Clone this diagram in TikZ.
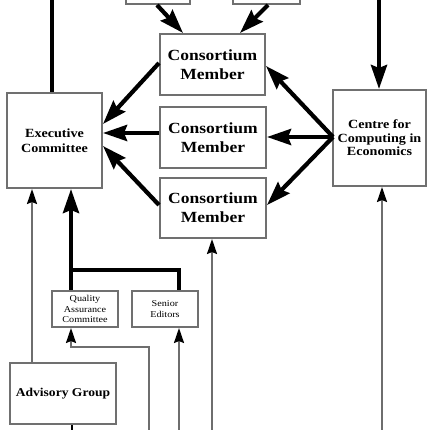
\documentclass[tikz,border=0pt]{standalone}
\usepackage{fontspec}
\setmainfont{Liberation Serif}[FakeStretch=1.13]
\usetikzlibrary{arrows.meta}
\definecolor{boxgray}{HTML}{707070}
\definecolor{linegray}{HTML}{6E6E6E}
\tikzset{
  box/.style={draw=boxgray, line width=2pt, fill=white, align=center, inner sep=0pt},
  bigbox/.style={box, font=\fontsize{15.5}{19}\selectfont\bfseries},
  midbox/.style={box, font=\fontsize{12.5}{14.5}\selectfont\bfseries},
  smallbox/.style={box, font=\fontsize{9}{10.5}\selectfont},
  thick arrow/.style={line width=4.2pt, -{Stealth[length=24pt,width=16pt,inset=3pt,fill=black]}},
  thick line/.style={line width=4.2pt},
  thin arrow/.style={draw=linegray, line width=2pt, -{Stealth[length=15pt,width=10pt,inset=2pt,color=black,fill=black]}},
}
\begin{document}
\begin{tikzpicture}[x=1pt,y=1pt]
\useasboundingbox (0,0) rectangle (430,-430);
\fill[white] (0,0) rectangle (430,-430);
\clip (0,0) rectangle (430,-430);

% top (cut-off) boxes
\node[box, minimum width=64pt, minimum height=30pt] (topl) at (158,11) {};
\node[box, minimum width=67pt, minimum height=30pt] (topr) at (266.5,11) {};

% consortium members
\node[bigbox, minimum width=105pt, minimum height=61pt] (cm1) at (212.5,-64.5) {Consortium\\Member};
\node[bigbox, minimum width=106pt, minimum height=61pt] (cm2) at (213,-137.5) {Consortium\\Member};
\node[bigbox, minimum width=106pt, minimum height=60pt] (cm3) at (213,-208) {Consortium\\Member};

% executive & centre
\node[midbox, minimum width=95pt, minimum height=95pt] (exec) at (54.5,-140.5) {Executive\\Committee};
\node[midbox, minimum width=93pt, minimum height=96pt, font=\fontsize{12.5}{13.5}\selectfont\bfseries] (centre) at (379.5,-138) {Centre for\\Computing in\\Economics};

% lower boxes
\node[smallbox, minimum width=66pt, minimum height=36pt] (qa) at (85,-309) {Quality\\Assurance\\Committee};
\node[smallbox, minimum width=66pt, minimum height=36pt] (se) at (165,-309) {Senior\\Editors};
\node[midbox, minimum width=106pt, minimum height=61pt, font=\fontsize{12}{14}\selectfont\bfseries] (adv) at (63,-393.5) {Advisory Group};

% free ends
\coordinate (topL) at (52,0);
\coordinate (topR) at (379,0);
\coordinate (junc) at (71,-270);
\coordinate (jse) at (179,-270);
\coordinate (bqa) at (149,-430);
\coordinate (bqa2) at (149,-347);
\coordinate (bqa3) at (71,-347);
\coordinate (bse) at (179,-430);
\coordinate (bcm) at (212,-430);
\coordinate (bce) at (382,-430);
\coordinate (badv) at (72,-432);
\coordinate (cfork) at (333,-137);

% thick connectors
\draw[thick arrow] (topl.south -| 157,0) -- (183,-33);
\draw[thick arrow] (topr.south -| 268,0) -- (240,-33);
\draw[thick line] (topL) -- (exec.north -| topL);
\draw[thick arrow] (topR) -- (centre.north -| topR);
\draw[thick arrow] (cm1.west |- 0,-63) -- (103,-124);
\draw[thick arrow] (cm2.west |- 0,-133) -- (103,-133);
\draw[thick arrow] (cm3.west |- 0,-205) -- (103,-146);
\draw[thick arrow] (cfork) -- (266,-66);
\draw[thick arrow] (cfork) -- (267,-137);
\draw[thick arrow] (cfork) -- (267,-205);
\draw[thick arrow] (qa.north -| junc) -- (exec.south -| junc);
\draw[thick line, line join=miter] (junc) -- (jse) -- (se.north -| jse);

% thin connectors
\draw[thin arrow] (adv.north -| 32,0) -- (exec.south -| 32,0);
\draw[thin arrow] (bqa) -- (bqa2) -- (bqa3) -- (qa.south -| bqa3);
\draw[thin arrow] (bse) -- (se.south -| bse);
\draw[thin arrow] (bcm) -- (cm3.south -| bcm);
\draw[thin arrow] (bce) -- (centre.south -| bce);
\draw[line width=1.5pt] (badv) -- (adv.south -| badv);
\end{tikzpicture}
\end{document}
